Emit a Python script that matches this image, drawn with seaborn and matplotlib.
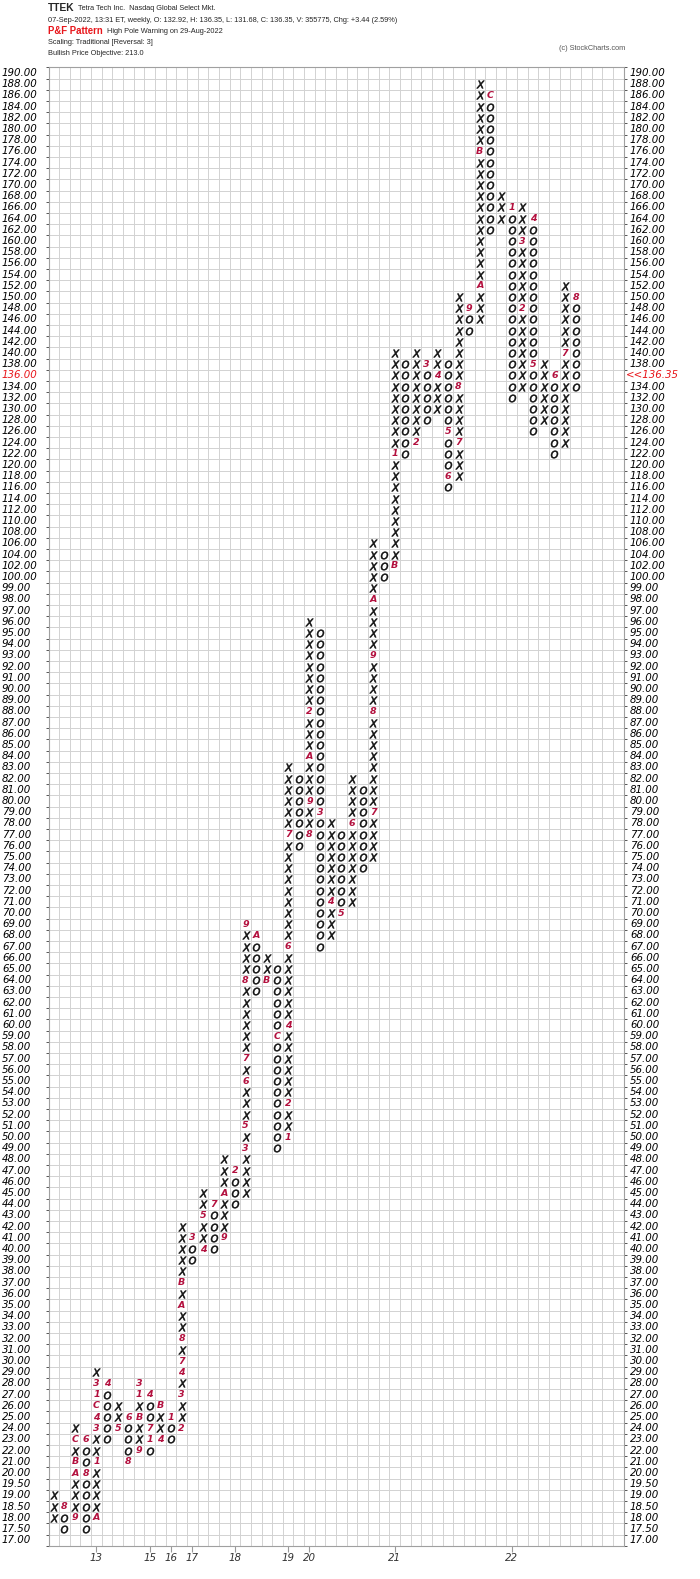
import matplotlib

matplotlib.use("Agg")

import matplotlib.pyplot as plt
import matplotlib.transforms as mtransforms
import pandas as pd
import seaborn as sns

# price scale of the P&F grid (box size 0.5 below 20, 1 up to 99, 2 above 100)
PRICE_LEVELS = [17.0, 17.5, 18.0, 18.5, 19.0, 19.5, 20.0] + list(range(21, 100)) + list(range(100, 191, 2))

# one entry per column, columns alternate X (even) / O (odd)
COL_LOW = [18, 17.5, 18, 17.5, 18, 23, 24, 21, 22, 22,
           23, 23, 24, 39, 40, 40, 41, 44, 45, 63,
           64, 49, 50, 76, 77, 67, 68, 70, 71, 74,
           75, 100, 102, 122, 124, 128, 130, 116, 118, 144,
           146, 162, 164, 132, 134, 126, 128, 122, 124, 134]
COL_HIGH = [19, 18.5, 24, 23, 29, 28, 26, 25, 28, 27,
            26, 25, 42, 41, 45, 44, 48, 47, 69, 68,
            66, 65, 83, 82, 96, 95, 78, 77, 82, 81,
            106, 104, 140, 138, 140, 138, 140, 138, 150, 148,
            188, 186, 168, 166, 166, 164, 138, 136, 152, 150]

# month markers (column, price, month code)
MONTH_MARKS = [
    (1, 18.5, "8"), (2, 18, "9"), (2, 20, "A"), (2, 21, "B"), (2, 23, "C"),
    (3, 23, "6"), (3, 20, "8"), (4, 18, "A"), (4, 21, "1"), (4, 24, "3"),
    (4, 25, "4"), (4, 26, "C"), (4, 27, "1"), (4, 28, "3"), (5, 28, "4"),
    (6, 24, "5"), (7, 25, "6"), (7, 21, "8"), (8, 22, "9"), (8, 25, "B"),
    (8, 27, "1"), (8, 28, "3"), (9, 27, "4"), (9, 24, "7"), (9, 23, "1"),
    (10, 23, "4"), (10, 26, "B"), (11, 25, "1"), (12, 24, "2"), (12, 27, "3"),
    (12, 29, "4"), (12, 30, "7"), (12, 32, "8"), (12, 35, "A"), (12, 37, "B"),
    (13, 41, "3"), (14, 40, "4"), (14, 43, "5"), (15, 44, "7"), (16, 41, "9"),
    (16, 45, "A"), (17, 47, "2"), (18, 49, "3"), (18, 51, "5"), (18, 55, "6"),
    (18, 57, "7"), (18, 64, "8"), (18, 69, "9"), (19, 68, "A"), (20, 64, "B"),
    (21, 59, "C"), (22, 50, "1"), (22, 53, "2"), (22, 60, "4"), (22, 67, "6"),
    (22, 77, "7"), (24, 77, "8"), (24, 80, "9"), (24, 84, "A"), (24, 88, "2"),
    (25, 79, "3"), (26, 71, "4"), (27, 70, "5"), (28, 78, "6"), (30, 79, "7"),
    (30, 88, "8"), (30, 93, "9"), (30, 98, "A"), (32, 102, "B"), (32, 122, "1"),
    (34, 124, "2"), (35, 138, "3"), (36, 136, "4"), (37, 126, "5"), (37, 118, "6"),
    (38, 124, "7"), (38, 134, "8"), (39, 148, "9"), (40, 152, "A"), (40, 176, "B"),
    (41, 186, "C"), (43, 166, "1"), (44, 148, "2"), (44, 160, "3"), (45, 164, "4"),
    (45, 138, "5"), (47, 136, "6"), (48, 140, "7"), (49, 150, "8"),
]

YEAR_COLS = [4, 9, 11, 13, 17, 22, 24, 32, 43]
YEAR_LABELS = ["13", "15", "16", "17", "18", "19", "20", "21", "22"]

N_COLS = 54
LAST_BOX = 136
LAST_PRICE = 136.35

MONTH_COLOR = "#b3103e"
RED = "#e8161b"
GRID_COLOR = "#d2d2d2"
FONT = ["DejaVu Sans"]

W, H = 700, 1579


def build_boxes():
    level_pos = {p: i for i, p in enumerate(PRICE_LEVELS)}
    rows = []
    for col, (lo, hi) in enumerate(zip(COL_LOW, COL_HIGH)):
        kind = "X" if col % 2 == 0 else "O"
        for p in PRICE_LEVELS[level_pos[lo]: level_pos[hi] + 1]:
            rows.append({"col": col, "row": level_pos[p], "kind": kind})
    boxes = pd.DataFrame(rows)
    marks = pd.DataFrame(MONTH_MARKS, columns=["col", "price", "label"])
    marks["row"] = marks["price"].map(level_pos)
    merged = boxes.merge(marks[["col", "row"]], on=["col", "row"], how="left", indicator=True)
    plain = merged[merged["_merge"] == "left_only"].drop(columns="_merge")
    return plain, marks, level_pos


def main():
    plain, marks, level_pos = build_boxes()

    sns.set_theme(style="white")
    plt.rcParams["font.family"] = FONT

    fig = plt.figure(figsize=(W / 100, H / 100), dpi=100)
    left, right = 48.5, 48.5 + N_COLS * 10.65
    top, bottom = 67.4, 67.4 + len(PRICE_LEVELS) * 11.2
    ax = fig.add_axes([left / W, 1 - bottom / H, (right - left) / W, (bottom - top) / H])

    sizes = {"X": 31, "O": 29}
    for kind in ["X", "O"]:
        sns.scatterplot(
            data=plain[plain["kind"] == kind], x="col", y="row",
            marker=f"${kind}$", color="#111111", s=sizes[kind], linewidth=0.45,
            edgecolor="#111111", legend=False, ax=ax, zorder=3,
        )

    for r in marks.itertuples():
        ax.text(r.col, r.row, r.label, ha="center", va="center", color=MONTH_COLOR,
                fontsize=6.8, fontstyle="italic", fontweight="bold", zorder=3)

    ax.set_xlim(-0.5, N_COLS - 0.5)
    ax.set_ylim(-0.5, len(PRICE_LEVELS) - 0.5)
    ax.set_xlabel("")
    ax.set_ylabel("")

    ax.set_xticks([c - 0.5 for c in range(N_COLS + 1)], minor=True)
    ax.set_yticks([r - 0.5 for r in range(len(PRICE_LEVELS) + 1)], minor=True)
    ax.grid(which="minor", color=GRID_COLOR, linewidth=0.7)
    ax.grid(which="major", visible=False)
    ax.set_axisbelow(True)

    ax.set_xticks(YEAR_COLS, YEAR_LABELS)
    ax.set_yticks([])
    ax.tick_params(axis="x", which="major", bottom=True, length=4, width=0.8, color="#999999",
                   pad=1.5, labelsize=7.4, labelcolor="#333333")
    ax.tick_params(axis="x", which="minor", bottom=False)
    ax.tick_params(axis="y", which="minor", left=True, right=True, length=2.5, width=0.7,
                   color="#555555", direction="out")
    for t in ax.get_xticklabels():
        t.set_fontstyle("italic")

    for s in ax.spines.values():
        s.set_color("#a0a0a0")
        s.set_linewidth(0.8)

    # price labels on both sides
    trans = mtransforms.blended_transform_factory(fig.transFigure, ax.transData)
    for i, p in enumerate(PRICE_LEVELS):
        is_last = p == LAST_BOX
        ax.text(2 / W, i, f"{p:.2f}", transform=trans, ha="left", va="center",
                fontsize=7.4, fontstyle="italic", color=RED if is_last else "black")
        if is_last:
            ax.text(626 / W, i, f"<<{LAST_PRICE:.2f}", transform=trans, ha="left", va="center",
                    fontsize=7.4, fontstyle="italic", color=RED)
        else:
            ax.text(630 / W, i, f"{p:.2f}", transform=trans, ha="left", va="center",
                    fontsize=7.4, fontstyle="italic", color="black")

    # header
    hdr = ["Liberation Sans", "DejaVu Sans"]
    fig.text(48 / W, 1 - 8 / H, "TTEK", fontsize=7.4, fontweight="bold", family=hdr, va="center")
    fig.text(78 / W, 1 - 8 / H, "Tetra Tech Inc.  Nasdaq Global Select Mkt.", fontsize=5.3,
             family=hdr, va="center")
    fig.text(48 / W, 1 - 20 / H,
             "07-Sep-2022, 13:31 ET, weekly, O: 132.92, H: 136.35, L: 131.68, C: 136.35, "
             "V: 355775, Chg: +3.44 (2.59%)", fontsize=5.3, family=hdr, va="center")
    fig.text(48 / W, 1 - 31.5 / H, "P&F Pattern", fontsize=6.9, fontweight="bold", color=RED,
             family=hdr, va="center")
    fig.text(107 / W, 1 - 31.5 / H, "High Pole Warning on 29-Aug-2022", fontsize=5.3,
             family=hdr, va="center")
    fig.text(48 / W, 1 - 42.5 / H, "Scaling: Traditional [Reversal: 3]", fontsize=5.3,
             family=hdr, va="center")
    fig.text(48 / W, 1 - 53.5 / H, "Bullish Price Objective: 213.0", fontsize=5.3,
             family=hdr, va="center")
    fig.text(559 / W, 1 - 49 / H, "(c) StockCharts.com", fontsize=5.3, color="#555555",
             family=hdr, va="center")

    fig.savefig("out.png", dpi=100)
    plt.close(fig)


if __name__ == "__main__":
    main()
